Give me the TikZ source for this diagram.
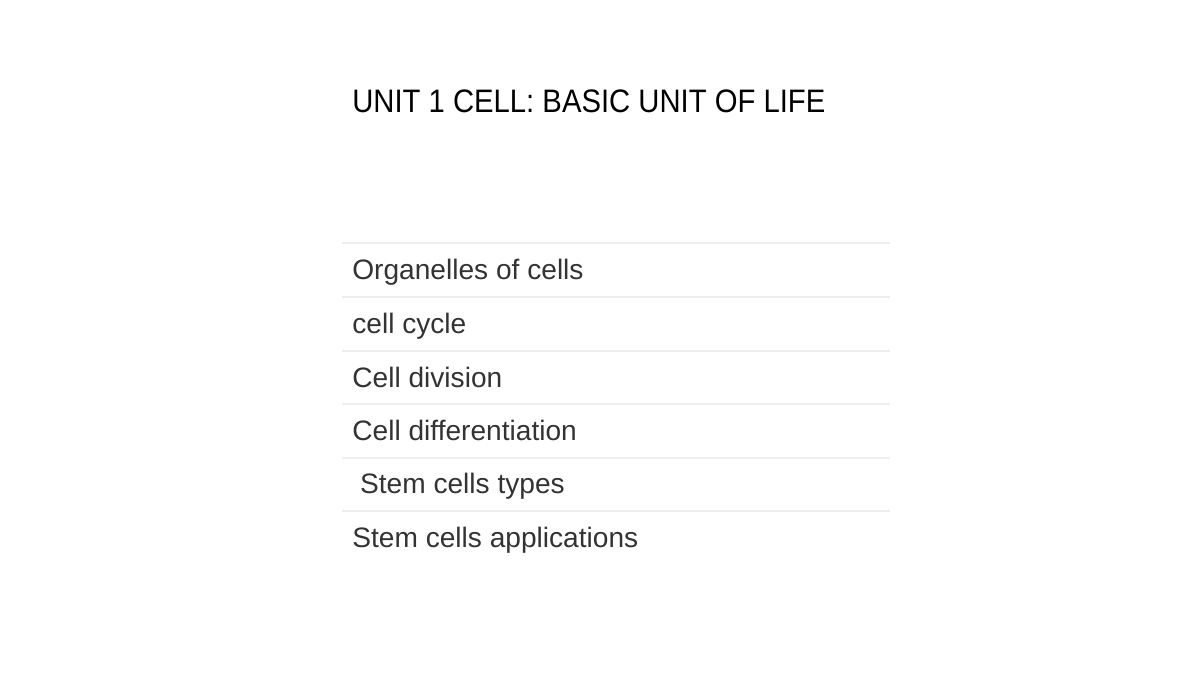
\documentclass[tikz,border=0pt]{standalone}
\usepackage{fontspec}
\setmainfont{Liberation Sans}
\definecolor{txt}{HTML}{333333}
\definecolor{sep}{HTML}{EEEEEE}
\begin{document}
\begin{tikzpicture}[x=0.02cm,y=-0.02cm,
  item/.style={anchor=base west,inner sep=0pt,text=txt,font=\fontsize{16}{18}\selectfont},
  rule/.style={draw=sep,line width=0.6pt}]
\useasboundingbox[fill=white] (0,0) rectangle (1200,676);
\node[anchor=base west,inner sep=0pt,font=\fontsize{18.5}{20}\selectfont,xscale=0.9] (title) at (352,112) {UNIT 1 CELL: BASIC UNIT OF LIFE};
\foreach \y [count=\i] in {243,297,351,404,458,511}{
  \coordinate (l\i) at (342,\y); \coordinate (r\i) at (890,\y);
  \draw[rule] (l\i) -- (r\i);
}
\node[item] (a) at (352,279) {Organelles of cells};
\node[item] (b) at (352,333) {cell cycle};
\node[item] (c) at (352,387) {Cell division};
\node[item] (d) at (352,440) {Cell differentiation};
\node[item] (e) at (352,493) {\ Stem cells types};
\node[item] (f) at (352,547) {Stem cells applications};
\end{tikzpicture}
\end{document}
